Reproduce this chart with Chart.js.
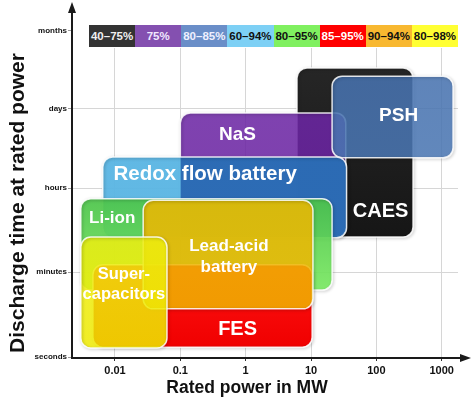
<!DOCTYPE html>
<html>
<head>
<meta charset="utf-8">
<script src="https://cdn.jsdelivr.net/npm/chart.js@4.4.1/dist/chart.umd.min.js"></script>
<style>
  html, body { margin: 0; padding: 0; background: #fff; }
  #wrap { position: relative; width: 474px; height: 402px; }
  #legend {
    position: absolute; left: 89px; top: 25px; width: 369px; height: 22px;
    display: flex; font-family: "Liberation Sans", Arial, sans-serif;
    font-weight: bold; font-size: 11.5px;
  }
  #legend div { flex: 1; display: flex; align-items: center; justify-content: center; white-space: nowrap; }
</style>
</head>
<body>
<div id="wrap">
  <canvas id="storageChart"></canvas>
  <div id="legend"></div>
</div>
<script>
// values; time axis: 0 = seconds, 1 = minutes ... 4 = months
const techNames = ["CAES", "NaS", "PSH", "Redox flow battery", "Li-ion", "FES", "Lead-acid\nbattery", "Super-\ncapacitors"];
const powerMin = [6.1, 0.1, 21, 0.0065, 0.003, 0.0046, 0.027, 0.003];
const powerMax = [364, 34, 1490, 35, 21, 10.4, 10.7, 0.0625];
const timeMin = [1.47, 1.48, 2.44, 1.46, 0.82, 0.12, 0.59, 0.11];
const timeMax = [3.54, 2.99, 3.44, 2.45, 1.94, 1.13, 1.92, 1.47];

const powerTicks = [0.01, 0.1, 1, 10, 100, 1000];
// the labelled levels are not evenly spaced in the figure
const timeTicks = [0, 1.04, 2.07, 3.04, 4];
const timeTickLabels = ["seconds", "minutes", "hours", "days", "months"];

const efficiencyRanges = ["40–75%", "75%", "80–85%", "60–94%", "80–95%", "85–95%", "90–94%", "80–98%"];

// looks of each box (same order as techNames)
const boxStyles = [
  { top: "#262626", bottom: "#161616", alpha: 1, size: 20, fx: 0.72, fy: 0.85 },
  { top: "#6c26a4", bottom: "#6a22a0", alpha: 0.87, size: 19, fx: 0.345, fy: 0.18 },
  { top: "#4772af", bottom: "#4a76b2", alpha: 0.87, size: 19, fx: 0.55, fy: 0.48 },
  { left: "#5cb6e3", right: "#2a6db5", splitAt: 0.1, alpha: 0.97, size: 20.5, fx: 0.42, fy: 0.22 },
  { top: "#4cc44a", bottom: "#7ae862", alpha: 0.93, size: 17, fx: 0.125, fy: 0.21 },
  { top: "#ff1414", bottom: "#f00000", alpha: 1, size: 20, fx: 0.66, fy: 0.79 },
  { top: "#f0b800", bottom: "#f0b400", alpha: 0.85, size: 17, fx: 0.505, fy: 0.52 },
  { top: "#eeee10", bottom: "#eeea00", alpha: 0.85, size: 16.5, fx: 0.5, fy: 0.43 }
];
const legendColors = ["#333333", "#8450b0", "#6a8ec8", "#7dd0f5", "#80f060", "#ff0000", "#f8b830", "#ffff33"];
const legendTextColors = ["#f0f0f0", "#f0e8ff", "#eef0ff", "#111", "#111", "#fff", "#111", "#111"];

const FONT = '"Liberation Sans", Arial, sans-serif';

const legendEl = document.getElementById("legend");
efficiencyRanges.forEach((t, i) => {
  const d = document.createElement("div");
  d.textContent = t;
  d.style.background = legendColors[i];
  d.style.color = legendTextColors[i];
  legendEl.appendChild(d);
});

function roundedBox(ctx, x, y, w, h, r) {
  r = Math.min(r, w / 2, h / 2);
  ctx.beginPath();
  ctx.moveTo(x + r, y);
  ctx.arcTo(x + w, y, x + w, y + h, r);
  ctx.arcTo(x + w, y + h, x, y + h, r);
  ctx.arcTo(x, y + h, x, y, r);
  ctx.arcTo(x, y, x + w, y, r);
  ctx.closePath();
}

const boxesPlugin = {
  id: "boxes",
  beforeDatasetsDraw(chart) {
    // vertical gridlines stop under the efficiency strip
    const { ctx, chartArea } = chart;
    ctx.save();
    ctx.fillStyle = "#fff";
    ctx.fillRect(chartArea.left + 1, 0, chartArea.right - chartArea.left + 10, 48);
    ctx.restore();
  },
  afterDatasetsDraw(chart) {
    const ctx = chart.ctx;
    const xs = chart.scales.x, ys = chart.scales.y;
    techNames.forEach((name, i) => {
      const st = boxStyles[i];
      const x0 = xs.getPixelForValue(powerMin[i]);
      const x1 = xs.getPixelForValue(powerMax[i]);
      const y0 = ys.getPixelForValue(timeMax[i]);
      const y1 = ys.getPixelForValue(timeMin[i]);
      let fill;
      if (st.splitAt) {
        const f = (xs.getPixelForValue(st.splitAt) - x0) / (x1 - x0);
        fill = ctx.createLinearGradient(x0, 0, x1, 0);
        fill.addColorStop(0, st.left);
        fill.addColorStop(f, st.left);
        fill.addColorStop(f + 0.002, st.right);
        fill.addColorStop(1, st.right);
      } else {
        fill = ctx.createLinearGradient(0, y0, 0, y1);
        fill.addColorStop(0, st.top);
        fill.addColorStop(1, st.bottom);
      }
      ctx.save();
      ctx.globalAlpha = st.alpha;
      roundedBox(ctx, x0, y0, x1 - x0, y1 - y0, 10);
      ctx.fillStyle = fill;
      ctx.fill();
      ctx.globalAlpha = 1;
      ctx.shadowColor = "rgba(0,0,0,0.3)";
      ctx.shadowBlur = 3;
      ctx.shadowOffsetX = 1;
      ctx.shadowOffsetY = 1;
      ctx.strokeStyle = "rgba(255,255,255,0.85)";
      ctx.lineWidth = 1.5;
      ctx.stroke();
      ctx.restore();
    });
    // labels on top of all boxes
    techNames.forEach((name, i) => {
      const st = boxStyles[i];
      const x0 = xs.getPixelForValue(powerMin[i]);
      const x1 = xs.getPixelForValue(powerMax[i]);
      const y0 = ys.getPixelForValue(timeMax[i]);
      const y1 = ys.getPixelForValue(timeMin[i]);
      const lines = name.split("\n");
      const cx = x0 + st.fx * (x1 - x0);
      const cy = y0 + st.fy * (y1 - y0);
      const lh = st.size * 1.2;
      ctx.save();
      ctx.font = `bold ${st.size}px ${FONT}`;
      ctx.fillStyle = "#fff";
      ctx.textAlign = "center";
      ctx.textBaseline = "middle";
      lines.forEach((ln, k) => {
        ctx.fillText(ln, cx, cy + (k - (lines.length - 1) / 2) * lh);
      });
      ctx.restore();
    });
  },
  afterDraw(chart) {
    const { ctx, chartArea } = chart;
    const L = chartArea.left, B = chartArea.bottom + 1;
    ctx.save();
    ctx.strokeStyle = "#1a1a1a";
    ctx.fillStyle = "#1a1a1a";
    ctx.lineWidth = 2;
    ctx.beginPath();
    ctx.moveTo(L, B + 1);
    ctx.lineTo(L, 10);
    ctx.moveTo(L - 1, B);
    ctx.lineTo(463, B);
    ctx.stroke();
    ctx.beginPath();
    ctx.moveTo(L - 4, 13);
    ctx.lineTo(L, 2);
    ctx.lineTo(L + 4, 13);
    ctx.closePath();
    ctx.fill();
    ctx.beginPath();
    ctx.moveTo(460, B - 4);
    ctx.lineTo(471, B);
    ctx.lineTo(460, B + 4);
    ctx.closePath();
    ctx.fill();

    ctx.fillStyle = "#111";
    ctx.textAlign = "center";
    ctx.textBaseline = "middle";
    ctx.font = `bold 17.5px ${FONT}`;
    ctx.fillText("Rated power in MW", 247, 388);
    ctx.translate(18, 203);
    ctx.rotate(-Math.PI / 2);
    ctx.font = `bold 21px ${FONT}`;
    ctx.fillText("Discharge time at rated power", 0, 0);
    ctx.restore();
  }
};

new Chart(document.getElementById("storageChart"), {
  type: "scatter",
  data: { datasets: [] },
  options: {
    responsive: true,
    maintainAspectRatio: false,
    animation: false,
    layout: { padding: { top: 6, right: 16, left: 0, bottom: 0 } },
    plugins: { legend: { display: false }, tooltip: { enabled: false } },
    scales: {
      x: {
        type: "logarithmic",
        min: 0.0022,
        max: 1775,
        afterBuildTicks: (s) => { s.ticks = powerTicks.map((v) => ({ value: v })); },
        afterFit: (s) => { s.height = 45; },
        border: { display: false },
        grid: { color: "#d6d6d6", tickColor: "#333", tickLength: 4 },
        ticks: {
          autoSkip: false, maxRotation: 0, padding: 3, color: "#111",
          font: { family: FONT, weight: "bold", size: 11 },
          callback: (v) => String(v)
        }
      },
      y: {
        type: "linear",
        min: 0,
        max: 4.3,
        afterBuildTicks: (s) => { s.ticks = timeTicks.map((v) => ({ value: v })); },
        afterFit: (s) => { s.width = 72; },
        border: { display: false },
        grid: {
          color: (c) => (c.index === 4 ? "rgba(0,0,0,0)" : "#d6d6d6"),
          tickColor: "#999",
          tickLength: 4
        },
        ticks: {
          padding: 1, color: "#111",
          font: { family: FONT, weight: "bold", size: 8 },
          callback: (v) => timeTickLabels[timeTicks.indexOf(v)]
        }
      }
    }
  },
  plugins: [boxesPlugin]
});
</script>
</body>
</html>
